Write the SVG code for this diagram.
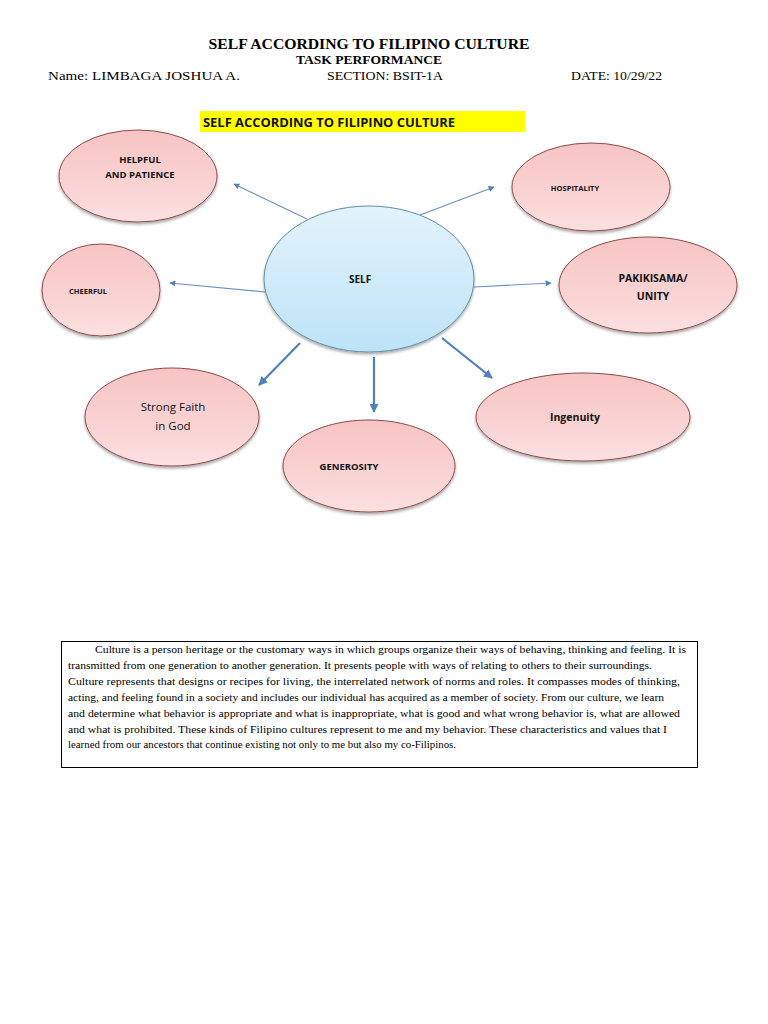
<svg xmlns="http://www.w3.org/2000/svg" width="768" height="1024" viewBox="0 0 768 1024">
<defs>
<linearGradient id="pink" x1="0" y1="0" x2="0" y2="1">
<stop offset="0" stop-color="#F7C4C4"/>
<stop offset="0.6" stop-color="#FAD3D3"/>
<stop offset="1" stop-color="#FCE0E0"/>
</linearGradient>
<linearGradient id="blue" x1="0" y1="0" x2="0" y2="1">
<stop offset="0" stop-color="#E3F3FC"/>
<stop offset="1" stop-color="#BDE3F7"/>
</linearGradient>
<filter id="sh" x="-10%" y="-10%" width="120%" height="130%">
<feDropShadow dx="0" dy="2" stdDeviation="1.5" flood-color="#000" flood-opacity="0.35"/>
</filter>
<marker id="ah" viewBox="0 0 10 10" refX="9" refY="5" markerWidth="6" markerHeight="6" orient="auto" markerUnits="userSpaceOnUse">
<path d="M0,0 L10,5 L0,10 Z" fill="#4F81BD"/>
</marker>
<marker id="ah2" viewBox="0 0 10 10" refX="9" refY="5" markerWidth="9" markerHeight="9" orient="auto" markerUnits="userSpaceOnUse">
<path d="M0,0 L10,5 L0,10 Z" fill="#4F81BD"/>
</marker>
</defs>
<style>
.pk{fill:url(#pink);stroke:#8E4A4A;stroke-width:1;filter:url(#sh)}
.bl{fill:url(#blue);stroke:#5E8DA6;stroke-width:1;filter:url(#sh)}
.lb{font-family:"Open Sans","Liberation Sans",sans-serif;font-weight:bold;fill:#111;text-anchor:middle}
.ln{font-family:"Open Sans","Liberation Sans",sans-serif;fill:#111;text-anchor:middle}
.c1{stroke:#6C91C2;stroke-width:1.2;fill:none;marker-end:url(#ah)}
.c2{stroke:#4F81BD;stroke-width:2.2;fill:none;marker-end:url(#ah2)}
.sf{font-family:"Liberation Serif","Times New Roman",serif;fill:#000}
</style>
<rect width="768" height="1024" fill="#fff"/>
<g id="header">
<text class="sf" x="369" y="49" font-size="14.5" font-weight="bold" text-anchor="middle" textLength="321" lengthAdjust="spacingAndGlyphs">SELF ACCORDING TO FILIPINO CULTURE</text>
<text class="sf" x="369" y="64" font-size="12.5" font-weight="bold" text-anchor="middle" textLength="146" lengthAdjust="spacingAndGlyphs">TASK PERFORMANCE</text>
<text class="sf" x="48" y="80" font-size="12.5" textLength="192" lengthAdjust="spacingAndGlyphs">Name: LIMBAGA JOSHUA A.</text>
<text class="sf" x="327" y="80" font-size="12.5" textLength="116" lengthAdjust="spacingAndGlyphs">SECTION: BSIT-1A</text>
<text class="sf" x="571" y="80" font-size="12.5" textLength="91" lengthAdjust="spacingAndGlyphs">DATE: 10/29/22</text>
</g>
<g id="banner">
<rect x="200" y="111" width="325" height="21" fill="#FFFF00"/>
<text x="203" y="127" font-family="Open Sans,Liberation Sans,sans-serif" font-weight="bold" font-size="12.5" fill="#111" textLength="252" lengthAdjust="spacingAndGlyphs">SELF ACCORDING TO FILIPINO CULTURE</text>
</g>
<g id="connectors">
<line class="c1" x1="307" y1="219" x2="234" y2="184"/>
<line class="c1" x1="420" y1="215" x2="494" y2="187"/>
<line class="c1" x1="265" y1="292" x2="170" y2="283"/>
<line class="c1" x1="474" y1="287" x2="551" y2="283"/>
<line class="c2" x1="300" y1="343" x2="259" y2="385"/>
<line class="c2" x1="374" y1="357" x2="374" y2="412"/>
<line class="c2" x1="442" y1="338" x2="492" y2="378"/>
</g>
<g id="helpful">
<ellipse class="pk" cx="138" cy="176" rx="79" ry="46"/>
<text class="lb" x="140" y="163" font-size="9.5">HELPFUL</text>
<text class="lb" x="140" y="178" font-size="9.5">AND PATIENCE</text>
</g>
<g id="hospitality">
<ellipse class="pk" cx="591" cy="187" rx="79" ry="44"/>
<text class="lb" x="575" y="191" font-size="7.5">HOSPITALITY</text>
</g>
<g id="cheerful">
<ellipse class="pk" cx="101" cy="290" rx="59" ry="46"/>
<text class="lb" x="88" y="294" font-size="7.5">CHEERFUL</text>
</g>
<g id="self">
<ellipse class="bl" cx="369" cy="279" rx="105" ry="73"/>
<text class="lb" x="360" y="283" font-size="10">SELF</text>
</g>
<g id="pakikisama">
<ellipse class="pk" cx="648" cy="285" rx="89" ry="48"/>
<text class="lb" x="653" y="282" font-size="10.5">PAKIKISAMA/</text>
<text class="lb" x="653" y="300" font-size="10.5">UNITY</text>
</g>
<g id="faith">
<ellipse class="pk" cx="172" cy="417" rx="87" ry="49"/>
<text class="ln" x="173" y="411" font-size="11.5">Strong Faith</text>
<text class="ln" x="173" y="430" font-size="11.5">in God</text>
</g>
<g id="generosity">
<ellipse class="pk" cx="369" cy="466" rx="86" ry="46"/>
<text class="lb" x="349" y="470" font-size="9.5">GENEROSITY</text>
</g>
<g id="ingenuity">
<ellipse class="pk" cx="583" cy="417" rx="107" ry="44"/>
<text class="lb" x="575" y="421" font-size="10.5">Ingenuity</text>
</g>
<g id="essay">
<rect x="61.5" y="641.5" width="636" height="126" fill="none" stroke="#000" stroke-width="1"/>
<g class="sf" font-size="10.5">
<text x="95" y="653" textLength="591" lengthAdjust="spacingAndGlyphs">Culture is a person heritage or the customary ways in which groups organize their ways of behaving, thinking and feeling. It is</text>
<text x="68" y="669" textLength="584" lengthAdjust="spacingAndGlyphs">transmitted from one generation to another generation. It presents people with ways of relating to others to their surroundings.</text>
<text x="68" y="685" textLength="612" lengthAdjust="spacingAndGlyphs">Culture represents that designs or recipes for living, the interrelated network of norms and roles. It compasses modes of thinking,</text>
<text x="68" y="701" textLength="596" lengthAdjust="spacingAndGlyphs">acting, and feeling found in a society and includes our individual has acquired as a member of society. From our culture, we learn</text>
<text x="68" y="717" textLength="612" lengthAdjust="spacingAndGlyphs">and determine what behavior is appropriate and what is inappropriate, what is good and what wrong behavior is, what are allowed</text>
<text x="68" y="733" textLength="599" lengthAdjust="spacingAndGlyphs">and what is prohibited. These kinds of Filipino cultures represent to me and my behavior. These characteristics and values that I</text>
<text x="68" y="748" textLength="388" lengthAdjust="spacingAndGlyphs">learned from our ancestors that continue existing not only to me but also my co-Filipinos.</text>
</g>
</g>
</svg>
